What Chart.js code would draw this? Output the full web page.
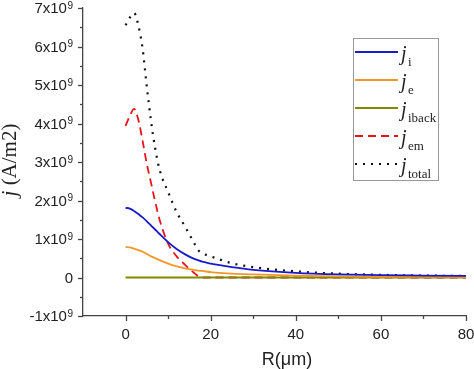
<!DOCTYPE html>
<html>
<head>
<meta charset="utf-8">
<script src="https://cdn.jsdelivr.net/npm/chart.js@4.4.0/dist/chart.umd.min.js"></script>
<style>
  html, body { margin: 0; padding: 0; background: #fff; }
  #wrap { width: 474px; height: 369px; }
</style>
</head>
<body>
<div id="wrap"><canvas id="chart" width="474" height="369"></canvas></div>
<script>
// ======= Data (current density in units of 1e9 A/m2) =======
const R = [0, 1, 2, 3, 4, 5, 6, 7, 8, 10, 12, 14, 16, 17, 18, 20, 25, 30, 40, 50, 60, 70, 80];
const jI     = [1.81, 1.79, 1.73, 1.65, 1.56, 1.46, 1.35, 1.24, 1.13, 0.92, 0.74, 0.60, 0.49, 0.45, 0.41, 0.36, 0.27, 0.20, 0.12, 0.08, 0.06, 0.05, 0.04];
const jE     = [0.79, 0.78, 0.75, 0.71, 0.67, 0.61, 0.55, 0.50, 0.45, 0.36, 0.29, 0.24, 0.20, 0.18, 0.17, 0.14, 0.10, 0.08, 0.05, 0.03, 0.02, 0.015, 0.01];
const jIback = [0, 0, 0, 0, 0, 0, 0, 0, 0, 0, 0, 0, 0, 0, 0, 0, 0, 0, 0, 0, 0, 0, 0];
const jEm    = [3.94, 4.20, 4.38, 4.10, 3.55, 2.95, 2.45, 1.95, 1.50, 0.88, 0.55, 0.33, 0.13, 0.04, 0, 0, 0, 0, 0, 0, 0, 0, 0];
const jTotal = [6.55, 6.75, 6.87, 6.55, 5.95, 4.95, 4.05, 3.33, 2.80, 2.22, 1.70, 1.32, 0.92, 0.72, 0.63, 0.55, 0.37, 0.27, 0.16, 0.10, 0.07, 0.05, 0.04];

const xTicks = [0, 20, 40, 60, 80];
const xMinor = [10, 30, 50, 70];
const yTicks = [-1, 0, 1, 2, 3, 4, 5, 6, 7];

const series = [
  { sub: "i",     values: jI,     color: "#1a1ac8", dash: [] },
  { sub: "e",     values: jE,     color: "#f5962a", dash: [] },
  { sub: "iback", values: jIback, color: "#7f8a00", dash: [] },
  { sub: "em",    values: jEm,    color: "#e8141c", dash: [8, 5] },
  { sub: "total", values: jTotal, color: "#111111", dash: [2, 6] }
];

// ======= Axes + legend drawing =======
const axisColor = "#444";
const sans = "'Liberation Sans', Arial, sans-serif";
const serif = "'Liberation Serif', 'Times New Roman', serif";

const decorPlugin = {
  id: "decor",
  afterDraw(chart) {
    const ctx = chart.ctx;
    const xs = chart.scales.x, ys = chart.scales.y;
    const area = chart.chartArea;
    ctx.save();
    ctx.strokeStyle = axisColor;
    ctx.fillStyle = "#222";
    ctx.lineWidth = 1.3;

    // y ticks
    for (let v = -1; v <= 7.001; v += 0.5) {
      const y = Math.round(ys.getPixelForValue(v)) + 0.5;
      const major = Math.abs(v - Math.round(v)) < 1e-6;
      ctx.beginPath();
      ctx.moveTo(area.left, y);
      ctx.lineTo(area.left - (major ? 5 : 3), y);
      ctx.stroke();
    }
    yTicks.forEach((v) => {
      const y = ys.getPixelForValue(v);
      const right = 73;
      ctx.textAlign = "right";
      if (v === 0) {
        ctx.font = "15px " + sans;
        ctx.fillText("0", right, y + 5.3);
        return;
      }
      ctx.font = "10px " + sans;
      const supW = ctx.measureText("9").width;
      ctx.fillText("9", right, y + 0.6);
      ctx.font = "15px " + sans;
      ctx.fillText(v + "x10", right - supW - 0.5, y + 5.3);
    });

    // x ticks
    xTicks.concat(xMinor).forEach((v) => {
      const x = Math.round(xs.getPixelForValue(v)) + 0.5;
      const major = xTicks.includes(v);
      ctx.beginPath();
      ctx.moveTo(x, area.bottom);
      ctx.lineTo(x, area.bottom + (major ? 5 : 3));
      ctx.stroke();
    });
    ctx.font = "15px " + sans;
    ctx.textAlign = "center";
    xTicks.forEach((v) => {
      ctx.fillText(String(v), xs.getPixelForValue(v), 338.5);
    });

    // axis titles
    ctx.font = "18px " + sans;
    ctx.fillText("R(\u03bcm)", 287, 365);

    ctx.save();
    ctx.translate(16, 160);
    ctx.rotate(-Math.PI / 2);
    ctx.textAlign = "left";
    ctx.font = "italic 21px " + serif;
    const jw = ctx.measureText("j").width;
    ctx.font = "21px " + serif;
    const rest = " (A/m2)";
    const rw = ctx.measureText(rest).width;
    const startX = -(jw + rw) / 2;
    ctx.font = "italic 21px " + serif;
    ctx.fillText("j", startX, 0);
    ctx.font = "21px " + serif;
    ctx.fillText(rest, startX + jw, 0);
    ctx.restore();

    // legend
    ctx.strokeStyle = "#999";
    ctx.lineWidth = 1;
    ctx.strokeRect(353.5, 38.5, 85, 142);
    series.forEach((s, i) => {
      const y = 52 + i * 28;
      ctx.strokeStyle = s.color;
      ctx.lineWidth = 2;
      ctx.setLineDash(s.dash);
      ctx.beginPath();
      ctx.moveTo(355, y);
      ctx.lineTo(398, y);
      ctx.stroke();
      ctx.setLineDash([]);
      ctx.fillStyle = "#222";
      ctx.textAlign = "left";
      ctx.font = "italic 20px " + serif;
      ctx.fillText("j", 401, y + 8);
      ctx.font = "13px " + serif;
      ctx.fillText(s.sub, 408, y + 14);
    });
    ctx.restore();
  }
};

// ======= Chart =======
const datasets = series.map((s) => ({
  label: "j" + s.sub,
  data: R.map((r, i) => ({ x: r, y: s.values[i] })),
  borderColor: s.color,
  borderWidth: s.sub === "total" ? 2.2 : 1.8,
  borderDash: s.dash,
  borderCapStyle: "butt",
  pointRadius: 0,
  fill: false,
  cubicInterpolationMode: "monotone"
}));

new Chart(document.getElementById("chart"), {
  type: "line",
  data: { datasets },
  plugins: [decorPlugin],
  options: {
    responsive: false,
    animation: false,
    layout: { padding: { top: 8, right: 8, left: 0, bottom: 0 } },
    plugins: { legend: { display: false }, tooltip: { enabled: false } },
    scales: {
      x: {
        type: "linear",
        min: -10,
        max: 80,
        ticks: { display: false },
        grid: { display: false },
        border: { display: true, color: axisColor, width: 1.3 },
        afterFit: (s) => { s.height = 53; }
      },
      y: {
        type: "linear",
        min: -1,
        max: 7,
        ticks: { display: false },
        grid: { display: false },
        border: { display: true, color: axisColor, width: 1.3 },
        afterFit: (s) => { s.width = 83; }
      }
    }
  }
});
</script>
</body>
</html>
